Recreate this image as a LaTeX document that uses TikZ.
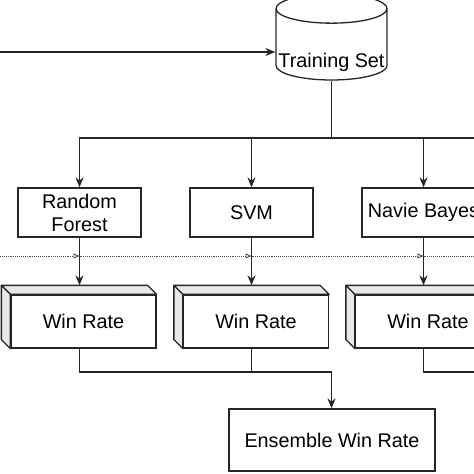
\documentclass[tikz,border=0pt]{standalone}
\usepackage{fontspec}
\setmainfont{Liberation Sans}
\usetikzlibrary{positioning,arrows.meta,shapes.geometric,calc}

% side and top faces of a box drawn as a cube
\newcommand{\cubefaces}[1]{%
  \filldraw[face] (#1.north west) -- ++(-9,-9) -- ([shift={(-9pt,9pt)}]#1.north east) -- (#1.north east) -- cycle;
  \filldraw[face] (#1.north west) -- ++(-9,-9) -- ([shift={(-9pt,9pt)}]#1.south west) -- (#1.south west) -- cycle;
  \coordinate (#1t) at ([shift={(-4.5pt,9pt)}]#1.north);
}

\begin{document}
\begin{tikzpicture}[
    x=1pt, y=-1pt,
    font=\fontsize{19.8}{23}\selectfont,
    box/.style={rectangle, draw=black!85, line width=1.3pt, fill=white, minimum width=123pt, minimum height=49pt, align=center, inner sep=2pt},
    cube/.style={box, minimum width=145pt, minimum height=53pt},
    face/.style={fill=gray!18, draw=black!85, line width=1.3pt, line join=round},
    db/.style={cylinder, shape border rotate=90, aspect=0.27, draw=black!85, line width=1.3pt, fill=white, minimum height=86pt, minimum width=111pt, inner sep=1pt},
    line/.style={draw=black!85, line width=1.3pt},
    arr/.style={line, -{Stealth[length=10pt, width=8pt]}},
    dotarr/.style={draw=black!70, line width=0.9pt, densely dotted, -{Triangle[open, length=6pt, width=5pt]}}
]
\useasboundingbox (0,0) rectangle (474,474);

% Data source
\node[db] (tset) at (331.5,46) {\raisebox{-21pt}[0pt][0pt]{Training Set}};
\coordinate (src) at (0,52);
\draw[arr] (src) -- (src -| tset.west);

% Classifiers
\node[box] (rf) at (79.5,212.5) {Random\\Forest};
\node[box] (svm) at (251.5,212.5) {SVM};
\node[box] (nb) at (423.5,212.5) {Navie Bayes};

% Split bus
\coordinate (split) at (331.5,138);
\coordinate (splitR) at (480,138);
\draw[line] (tset.south) -- (split) -- (splitR);
\draw[arr] (split) -| (rf);
\draw[arr] (split) -| (svm);
\draw[arr] (split) -| (nb);

% Win rate cubes
\node[cube] (wra) at (83.5,321.5) {Win Rate};
\node[cube] (wrb) at (256,321.5) {Win Rate};
\node[cube] (wrc) at (428,321.5) {Win Rate};
\cubefaces{wra}
\cubefaces{wrb}
\cubefaces{wrc}

\draw[arr] (rf.south) -- (rf.south |- wrat);
\draw[arr] (svm.south) -- (svm.south |- wrbt);
\draw[arr] (nb.south) -- (nb.south |- wrct);

% Dotted feed
\coordinate (dsrc) at (0,256);
\coordinate (dsrcR) at (480,256);
\draw[dotarr] (dsrc) -- (dsrc -| rf);
\draw[dotarr] (dsrc -| rf) -- (dsrc -| svm);
\draw[dotarr] (dsrc -| svm) -- (dsrc -| nb);
\draw[dotarr, -] (dsrc -| nb) -- (dsrcR);

% Join bus
\node[box, minimum width=206pt, minimum height=62pt] (ens) at (332,440) {Ensemble Win Rate};
\coordinate (join) at (331.5,372);
\coordinate (joinR) at (480,372);
\draw[line] (rf.south |- wra.south) |- (join);
\draw[line] (svm.south |- wrb.south) |- (join);
\draw[line] (nb.south |- wrc.south) |- (joinR);
\draw[arr] (join) -- (join |- ens.north);

\end{tikzpicture}
\end{document}
